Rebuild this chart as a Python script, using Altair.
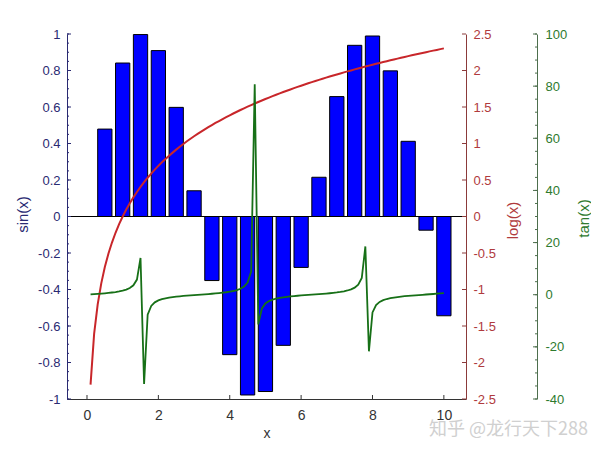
import altair as alt
import pandas as pd

# ---- data ----
bar_x = [0.5, 1.0, 1.5, 2.0, 2.5, 3.0, 3.5, 4.0, 4.5, 5.0,
         5.5, 6.0, 6.5, 7.0, 7.5, 8.0, 8.5, 9.0, 9.5, 10.0]
bar_sin = [0.479, 0.841, 0.997, 0.909, 0.598, 0.141, -0.351, -0.757, -0.978, -0.959,
           -0.706, -0.279, 0.215, 0.657, 0.938, 0.989, 0.798, 0.412, -0.075, -0.544]

line_x = [0.1, 0.2, 0.3, 0.4, 0.5, 0.6, 0.7, 0.8, 0.9, 1.0,
          1.1, 1.2, 1.3, 1.4, 1.5, 1.6, 1.7, 1.8, 1.9, 2.0,
          2.1, 2.2, 2.3, 2.4, 2.5, 2.6, 2.7, 2.8, 2.9, 3.0,
          3.1, 3.2, 3.3, 3.4, 3.5, 3.6, 3.7, 3.8, 3.9, 4.0,
          4.1, 4.2, 4.3, 4.4, 4.5, 4.6, 4.7, 4.8, 4.9, 5.0,
          5.1, 5.2, 5.3, 5.4, 5.5, 5.6, 5.7, 5.8, 5.9, 6.0,
          6.1, 6.2, 6.3, 6.4, 6.5, 6.6, 6.7, 6.8, 6.9, 7.0,
          7.1, 7.2, 7.3, 7.4, 7.5, 7.6, 7.7, 7.8, 7.9, 8.0,
          8.1, 8.2, 8.3, 8.4, 8.5, 8.6, 8.7, 8.8, 8.9, 9.0,
          9.1, 9.2, 9.3, 9.4, 9.5, 9.6, 9.7, 9.8, 9.9, 10.0]

log_y = [-2.303, -1.609, -1.204, -0.916, -0.693, -0.511, -0.357, -0.223, -0.105, 0.0,
         0.095, 0.182, 0.262, 0.336, 0.405, 0.470, 0.531, 0.588, 0.642, 0.693,
         0.742, 0.788, 0.833, 0.875, 0.916, 0.956, 0.993, 1.030, 1.065, 1.099,
         1.131, 1.163, 1.194, 1.224, 1.253, 1.281, 1.308, 1.335, 1.361, 1.386,
         1.411, 1.435, 1.459, 1.482, 1.504, 1.526, 1.548, 1.569, 1.589, 1.609,
         1.629, 1.649, 1.668, 1.686, 1.705, 1.723, 1.740, 1.758, 1.775, 1.792,
         1.808, 1.825, 1.841, 1.856, 1.872, 1.887, 1.902, 1.917, 1.932, 1.946,
         1.960, 1.974, 1.988, 2.001, 2.015, 2.028, 2.041, 2.054, 2.067, 2.079,
         2.092, 2.104, 2.116, 2.128, 2.140, 2.152, 2.163, 2.175, 2.186, 2.197,
         2.208, 2.219, 2.230, 2.241, 2.251, 2.262, 2.272, 2.282, 2.293, 2.303]

tan_y = [0.100, 0.203, 0.309, 0.423, 0.546, 0.684, 0.842, 1.030, 1.260, 1.557,
         1.965, 2.572, 3.602, 5.798, 14.101, -34.233, -7.697, -4.286, -2.927, -2.185,
         -1.710, -1.374, -1.119, -0.916, -0.747, -0.602, -0.473, -0.356, -0.246, -0.143,
         -0.042, 0.058, 0.160, 0.264, 0.375, 0.494, 0.625, 0.774, 0.947, 1.158,
         1.424, 1.778, 2.286, 3.096, 4.637, 8.860, 80.713, -11.385, -5.267, -3.381,
         -2.449, -1.886, -1.501, -1.218, -0.996, -0.814, -0.660, -0.525, -0.403, -0.291,
         -0.185, -0.083, 0.017, 0.117, 0.220, 0.328, 0.443, 0.568, 0.709, 0.871,
         1.069, 1.304, 1.617, 2.050, 2.706, 3.850, 6.443, 18.510, -21.720, -6.800,
         -3.982, -2.775, -2.092, -1.646, -1.327, -1.083, -0.888, -0.724, -0.580, -0.452,
         -0.337, -0.229, -0.125, -0.025, 0.075, 0.177, 0.282, 0.394, 0.515, 0.648]

x_ticks = [0, 2, 4, 6, 8, 10]
sin_ticks = [-1, -0.8, -0.6, -0.4, -0.2, 0, 0.2, 0.4, 0.6, 0.8, 1]
sin_minor = [-1, -0.95, -0.9, -0.85, -0.8, -0.75, -0.7, -0.65, -0.6, -0.55, -0.5, -0.45,
             -0.4, -0.35, -0.3, -0.25, -0.2, -0.15, -0.1, -0.05, 0, 0.05, 0.1, 0.15,
             0.2, 0.25, 0.3, 0.35, 0.4, 0.45, 0.5, 0.55, 0.6, 0.65, 0.7, 0.75, 0.8,
             0.85, 0.9, 0.95, 1]
log_ticks = [-2.5, -2, -1.5, -1, -0.5, 0, 0.5, 1, 1.5, 2, 2.5]
tan_ticks = [-40, -20, 0, 20, 40, 60, 80, 100]
tan_minor = [-40, -35, -30, -25, -20, -15, -10, -5, 0, 5, 10, 15, 20, 25, 30, 35, 40,
             45, 50, 55, 60, 65, 70, 75, 80, 85, 90, 95, 100]
watermark = ["知乎 @龙行天下288"]

# ---- styling ----
W, H = 399, 365
TAN_OFFSET = 71
FONT = "Liberation Sans"
C_SIN = "#2a2a72"
C_LOG_TXT = "#b03a3d"
C_LOG_AX = "#8b3a3a"
C_TAN_TXT = "#2e7a2e"
C_TAN_AX = "#4d6e4d"
C_X = "#333333"

bars_df = pd.DataFrame({"x": bar_x, "sin": bar_sin})
lines_df = pd.DataFrame({"x": line_x, "logy": log_y, "tany": tan_y})

xs = alt.Scale(domain=[-0.56, 10.62], nice=False, zero=False)
ys_sin = alt.Scale(domain=[-1, 1], nice=False, zero=False)
ys_log = alt.Scale(domain=[-2.5, 2.5], nice=False, zero=False)
ys_tan = alt.Scale(domain=[-40, 100], nice=False, zero=False)

x_axis = alt.Axis(values=x_ticks, title="x", ticks=False, tickSize=0, grid=False,
                  domainColor=C_X, labelColor=C_X, labelFontSize=14, labelPadding=9,
                  titleColor=C_X, titleFontSize=14, titleFontWeight="normal",
                  titleY=34, titleBaseline="middle", labelExpr="toString(datum.value)")

sin_axis = alt.Axis(values=sin_ticks, title="sin(x)", orient="left", ticks=False, tickSize=0,
                    grid=False, domainColor=C_SIN, labelColor=C_SIN, labelFontSize=13,
                    labelPadding=7, titleColor=C_SIN, titleFontSize=15, titleFontWeight="normal",
                    titleAngle=270, titleX=-45, titleY=180, titleAlign="center",
                    titleBaseline="middle", labelExpr="toString(datum.value)")

log_axis = alt.Axis(values=log_ticks, title="log(x)", orient="right", ticks=False, tickSize=0,
                    grid=False, domainColor=C_LOG_AX, labelColor=C_LOG_TXT, labelFontSize=13,
                    labelPadding=7, titleColor=C_LOG_TXT, titleFontSize=15, titleFontWeight="normal",
                    titleAngle=270, titleX=46, titleY=186, titleAlign="center",
                    titleBaseline="middle", labelExpr="toString(datum.value)")

tan_axis = alt.Axis(values=tan_ticks, title="tan(x)", orient="right", offset=TAN_OFFSET,
                    ticks=False, tickSize=0, grid=False, domainColor=C_TAN_AX,
                    labelColor=C_TAN_TXT, labelFontSize=13, labelPadding=8,
                    titleColor=C_TAN_TXT, titleFontSize=15, titleFontWeight="normal",
                    titleAngle=270, titleX=46, titleY=184, titleAlign="center",
                    titleBaseline="middle", labelExpr="toString(datum.value)")

# ---- left (sin) layer ----
bars = alt.Chart(bars_df).transform_calculate(
    x0="datum.x - 0.2", x1="datum.x + 0.2"
).mark_bar(color="#0000ff", stroke="black", strokeWidth=1).encode(
    x=alt.X("x0:Q", scale=xs, axis=x_axis),
    x2="x1:Q",
    y=alt.Y("sin:Q", scale=ys_sin, axis=sin_axis),
    y2=alt.datum(0),
)

zero_line = alt.Chart(pd.DataFrame({"v": [0]})).mark_rule(color="black", strokeWidth=1).encode(
    y=alt.Y("v:Q", scale=ys_sin, axis=sin_axis)
)

sin_major = alt.Chart(pd.DataFrame({"v": sin_ticks})).mark_rule(color=C_SIN).encode(
    y=alt.Y("v:Q", scale=ys_sin, axis=sin_axis), x=alt.value(0), x2=alt.value(4)
)
sin_min = alt.Chart(pd.DataFrame({"v": sin_minor})).mark_rule(color=C_SIN).encode(
    y=alt.Y("v:Q", scale=ys_sin, axis=sin_axis), x=alt.value(0), x2=alt.value(2)
)
x_tk = alt.Chart(pd.DataFrame({"v": x_ticks})).mark_rule(color=C_X).encode(
    x=alt.X("v:Q", scale=xs, axis=x_axis), y=alt.value(H), y2=alt.value(H - 4)
)

left = alt.layer(bars, zero_line, sin_major, sin_min, x_tk)

# ---- log layer ----
log_line = alt.Chart(lines_df).mark_line(color="#c8262a", strokeWidth=2).encode(
    x=alt.X("x:Q", scale=xs, axis=x_axis),
    y=alt.Y("logy:Q", scale=ys_log, axis=log_axis),
)
log_tk = alt.Chart(pd.DataFrame({"v": log_ticks})).mark_rule(color=C_LOG_AX).encode(
    y=alt.Y("v:Q", scale=ys_log, axis=log_axis), x=alt.value(W - 4), x2=alt.value(W)
)
mid = alt.layer(log_line, log_tk)

# ---- tan layer ----
tan_line = alt.Chart(lines_df).mark_line(color="#177017", strokeWidth=1.8).encode(
    x=alt.X("x:Q", scale=xs, axis=x_axis),
    y=alt.Y("tany:Q", scale=ys_tan, axis=tan_axis),
)
tan_major = alt.Chart(pd.DataFrame({"v": tan_ticks})).mark_rule(color=C_TAN_AX).encode(
    y=alt.Y("v:Q", scale=ys_tan, axis=tan_axis),
    x=alt.value(W + TAN_OFFSET - 4), x2=alt.value(W + TAN_OFFSET)
)
tan_min = alt.Chart(pd.DataFrame({"v": tan_minor})).mark_rule(color=C_TAN_AX).encode(
    y=alt.Y("v:Q", scale=ys_tan, axis=tan_axis),
    x=alt.value(W + TAN_OFFSET - 2), x2=alt.value(W + TAN_OFFSET)
)
right = alt.layer(tan_line, tan_major, tan_min)

wm = alt.Chart(pd.DataFrame({"t": watermark})).mark_text(
    align="left", baseline="middle", fontSize=18, color="#d0d0d0",
    font="Noto Sans CJK SC"
).encode(text="t:N", x=alt.value(362), y=alt.value(396))

chart = alt.layer(left, mid, right, wm).resolve_scale(y="independent").properties(
    width=W, height=H,
    autosize=alt.AutoSizeParams(type="none"),
    padding={"left": 59, "top": 26, "right": 125, "bottom": 42},
).configure(font=FONT).configure_view(stroke=None).configure_axis(grid=False)

chart.save("out.html", embed_options={"renderer": "svg", "actions": False})
